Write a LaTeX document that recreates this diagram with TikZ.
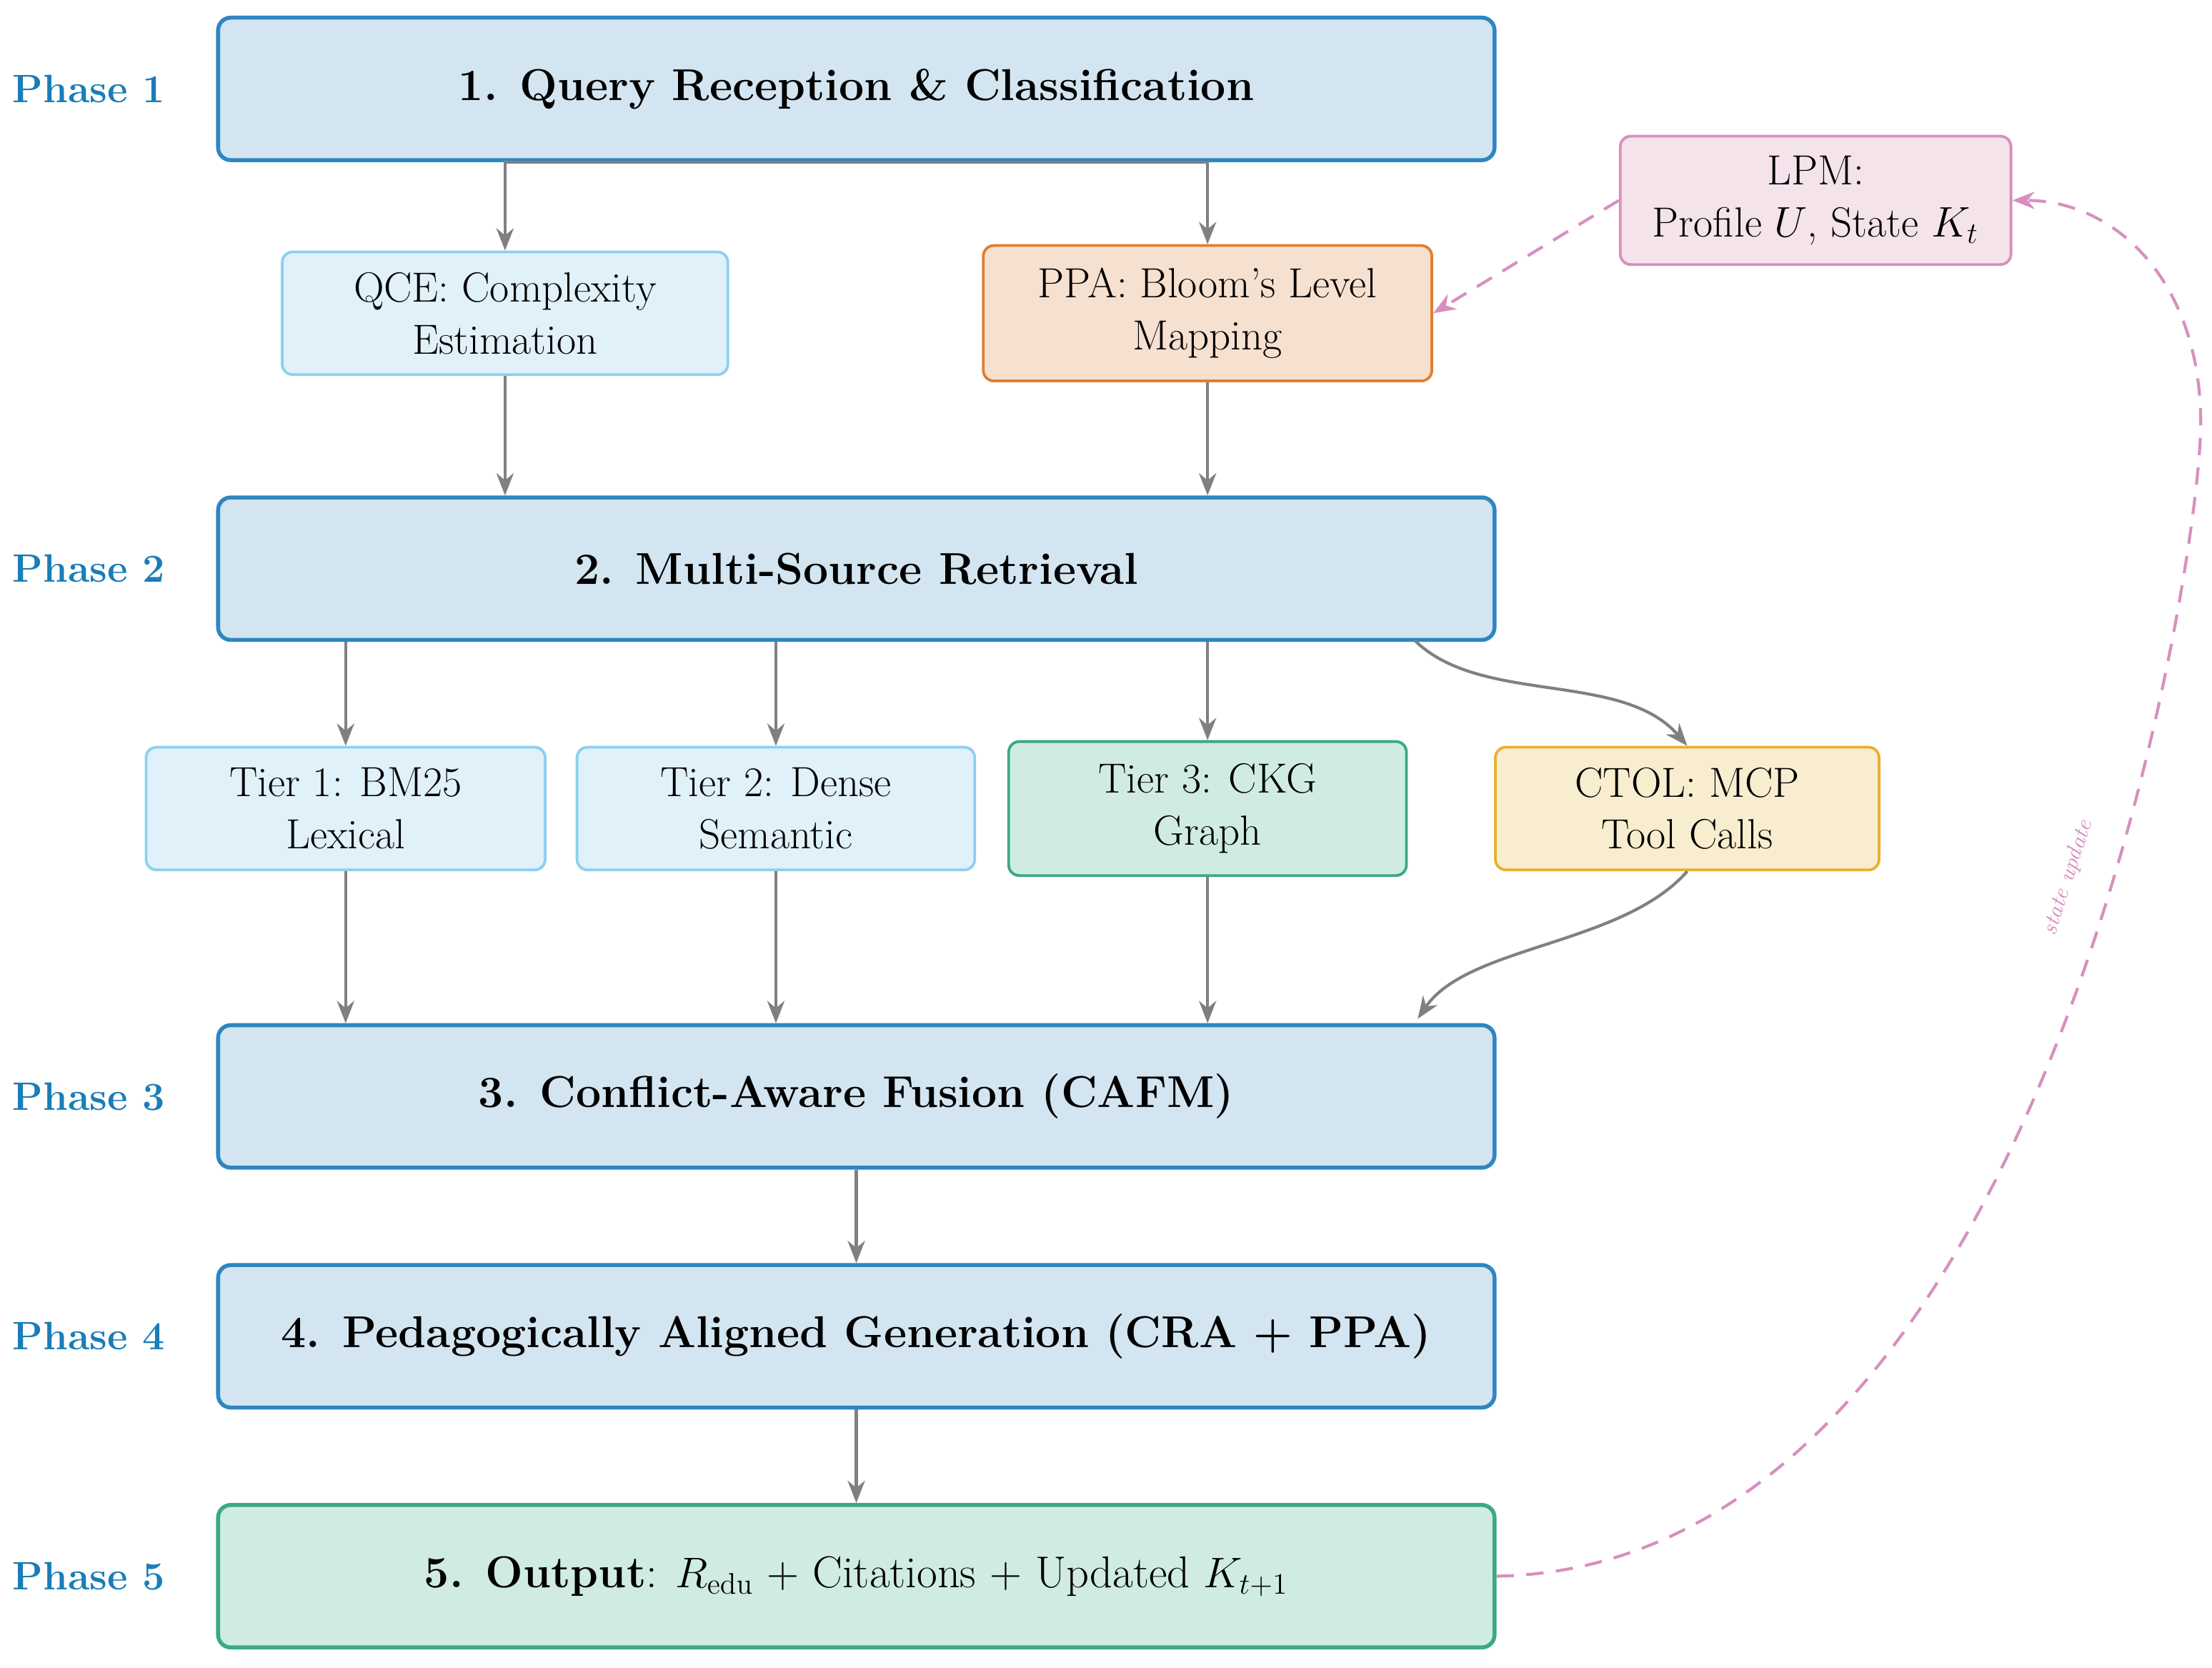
\documentclass[tikz,border=0pt]{standalone}
\usetikzlibrary{arrows.meta}
\definecolor{phfill}{HTML}{D2E5F0}\definecolor{phdraw}{HTML}{2E86C1}
\definecolor{phtext}{HTML}{1A7DB8}
\definecolor{tfill}{HTML}{E0F1FA}\definecolor{tdraw}{HTML}{8ECFF0}
\definecolor{gfill}{HTML}{D0ECE2}\definecolor{gdraw}{HTML}{3AAA80}
\definecolor{ofill}{HTML}{F6E0D0}\definecolor{odraw}{HTML}{E07F30}
\definecolor{yfill}{HTML}{F9EDCF}\definecolor{ydraw}{HTML}{E8B030}
\definecolor{pfill}{HTML}{F5E3EC}\definecolor{pdraw}{HTML}{D88FBF}
\definecolor{arr}{HTML}{808080}
\begin{document}
\begin{tikzpicture}[x=0.02cm,y=-0.02cm,
 phase/.style={draw=phdraw,fill=phfill,line width=1.6pt,rounded corners=0.18cm,minimum width=18.1cm,minimum height=2.02cm,font=\fontsize{18}{22}\selectfont\bfseries},
 sb/.style={line width=1.1pt,rounded corners=0.15cm,minimum height=1.74cm,align=center,font=\fontsize{17}{21}\selectfont},
 lbl/.style={text=phtext,font=\fontsize{16}{20}\selectfont\bfseries},
 a/.style={draw=arr,line width=1.2pt,-{Stealth[length=9pt,width=7pt]}},
 pk/.style={draw=pdraw,line width=1.2pt,dash pattern=on 7pt off 5pt,-{Stealth[length=9pt,width=7pt]}}]
\useasboundingbox (0,0) rectangle (1568,1182);
\node[phase] (b1) at (607,63) {1. Query Reception \& Classification};
\node[phase] (b2) at (607,403) {2. Multi-Source Retrieval};
\node[phase] (b3) at (607,777) {3. Conflict-Aware Fusion (CAFM)};
\node[phase] (b4) at (607,947) {4. Pedagogically Aligned Generation (CRA + PPA)};
\node[phase,draw=gdraw,fill=gfill] (b5) at (607,1117) {5. Output\mdseries: $R_{\mathrm{edu}}$ + Citations + Updated $K_{t+1}$};
\foreach \i/\y in {1/63,2/403,3/777,4/947,5/1117}
  \node[lbl] (p\i) at (63,\y) {Phase \i};
\node[sb,draw=tdraw,fill=tfill,minimum width=6.32cm] (qce) at (358,222) {QCE: Complexity\\Estimation};
\node[sb,draw=odraw,fill=ofill,minimum width=6.36cm,minimum height=1.92cm] (ppa) at (856,222) {PPA: Bloom's Level\\Mapping};
\node[sb,draw=pdraw,fill=pfill,minimum width=5.54cm,minimum height=1.82cm] (lpm) at (1287,142) {LPM:\\Profile $U$, State $K_t$};
\node[sb,draw=tdraw,fill=tfill,minimum width=5.66cm] (t1) at (245,573) {Tier 1: BM25\\Lexical};
\node[sb,draw=tdraw,fill=tfill,minimum width=5.64cm] (t2) at (550,573) {Tier 2: Dense\\Semantic};
\node[sb,draw=gdraw,fill=gfill,minimum width=5.64cm,minimum height=1.9cm] (t3) at (856,573) {Tier 3: CKG\\Graph};
\node[sb,draw=ydraw,fill=yfill,minimum width=5.44cm] (ct) at (1196,573) {CTOL: MCP\\Tool Calls};
\draw[a] (b1.south) -| (qce.north);
\draw[a] (b1.south) -| (ppa.north);
\draw[a] (qce.south) -- (qce.south|-b2.north);
\draw[a] (ppa.south) -- (ppa.south|-b2.north);
\foreach \t in {t1,t2,t3}{
 \draw[a] (\t.north|-b2.south) -- (\t.north);
 \draw[a] (\t.south) -- (\t.south|-b3.north);}
\coordinate (c1) at (1003,454);
\draw[a] (c1) .. controls (1050,500) and (1150,475) .. (ct.north);
\coordinate (c2) at (1005,722);
\draw[a] (ct.south) .. controls (1150,670) and (1040,670) .. (c2);
\draw[a] (b3.south) -- (b4.north);
\draw[a] (b4.south) -- (b5.north);
\draw[pk] (lpm.west) -- (ppa.east);
\draw[pk] (b5.east) .. controls (1450,1110) and (1560,400) .. (1560,300) .. controls (1560,200) and (1500,142) .. (lpm.east);
\node[text=pdraw,rotate=72,font=\fontsize{9}{10}\selectfont\itshape] (su) at (1466,622) {state update};
\end{tikzpicture}
\end{document}
